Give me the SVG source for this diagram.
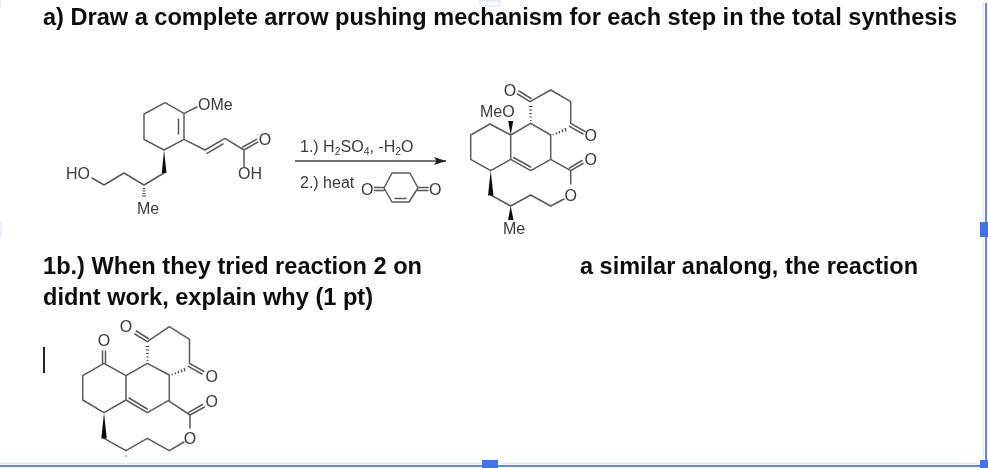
<svg xmlns="http://www.w3.org/2000/svg" width="988" height="468" viewBox="0 0 988 468">
<defs>
<style>
.h{font:bold 23px "Liberation Sans",Arial,sans-serif;fill:#111}
.l{font:16px "Liberation Sans",Arial,sans-serif;fill:#3a3a3a}
.s{font-size:10.500px}
.b{fill:none;stroke:#5a5a5a;stroke-width:1.5;stroke-linejoin:round;stroke-linecap:round}
.w{fill:#111;stroke:none}
.x{fill:none;stroke:#444;stroke-width:1.200}
.e{fill:#3f74e4}
.f{fill:none;stroke:#5b8bf0;stroke-width:2}
.g{fill:none;stroke:#dfe7fb;stroke-width:1.5}
</style>
<filter id="soft" filterUnits="userSpaceOnUse" x="0" y="0" width="988" height="468"><feGaussianBlur stdDeviation="0.45"/></filter>
<marker id="ah" markerWidth="13" markerHeight="8" refX="12" refY="4" orient="auto" markerUnits="userSpaceOnUse"><path d="M0 0L12 4L0 8L2.500 4Z" fill="#222"/></marker>
</defs>
<rect width="988" height="468" fill="#fff"/>

<g id="header" filter="url(#soft)"><text class="h" x="43" y="25" textLength="914" lengthAdjust="spacingAndGlyphs">a) Draw a complete arrow pushing mechanism for each step in the total synthesis</text></g>

<g id="starting-material" filter="url(#soft)">
<path class="b" d="M165 102.700L184 113.300L184 139.300L164 150L144 139.300L144 114ZM178.500 119V134M184 113.300L197 107M184 139.300L205 150L225 138.300L244 150L258 142M207 153.300L223 144M242.800 147L256.500 139.300M244 150V167M164 173L144 185L124 173L104 185L92 178"/>
<path class="w" d="M164 150L161.800 173H166.500Z"/>
<path class="x" d="M143 188.500h2M142.700 191h2.600M142.400 193.500h3.200M142 196h4"/>
<text class="l" x="198" y="109.500">OMe</text>
<text class="l" x="258.800" y="144.700">O</text>
<text class="l" x="238" y="179">OH</text>
<text class="l" x="66" y="179">HO</text>
<text class="l" x="137" y="214">Me</text>
</g>

<g id="connectors" filter="url(#soft)">
<line x1="295" y1="161" x2="446" y2="161" stroke="#444" stroke-width="1.300" marker-end="url(#ah)"/>
</g>

<g id="reagents" filter="url(#soft)">
<text class="l" x="300" y="152">1.) H<tspan class="s" dy="3">2</tspan><tspan dy="-3">SO</tspan><tspan class="s" dy="3">4</tspan><tspan dy="-3">, -H</tspan><tspan class="s" dy="3">2</tspan><tspan dy="-3">O</tspan></text>
<text class="l" x="300" y="188">2.) heat</text>
</g>

<g id="quinone" filter="url(#soft)">
<path class="b" d="M392 173H410L418 188L409 202H392L384 188ZM395 198.500H406M374.500 187.500H384M374.500 190.500H384M418 187.500H428M418 190.500H428"/>
<text class="l" x="361" y="194.700">O</text>
<text class="l" x="429" y="194.700">O</text>
</g>

<g id="product" filter="url(#soft)">
<path class="b" d="M517.500 94L530 101.700L550.700 90L570.700 101.700V123.300L585 131.500M531 98.500L519 91M569.500 126.300L583 134M550.700 135L530.700 123.300L510.700 135V159.300L530.700 170.700L550.700 159.300L570.700 170.700L583 163.500M569.500 168L582 160.500M550.700 135V159.300M513.500 157.500L530.700 167M570.700 170.700V184M564 199L550.700 206L530.700 195L510.700 206L490.700 195M490.700 170.700L510.700 159.300M490.700 170.700L470.700 159.300V135L490 124L510.700 135"/>
<path class="w" d="M510.700 135L508.200 121H513.200ZM490.700 170.700L488 195.500H493.500ZM510.700 206L508 220H513.500Z"/>
<path class="x" d="M530 120.500h1.500M529.700 117h2M529.400 113.500h2.500M529 110h3.200M528.700 106.500h3.700M553 134l.5 1.200M556 132.500l.7 1.800M559 131l.8 2.300M562 129.500l1 2.800M565 128l1.100 3.200"/>
<text class="l" x="480" y="116.700">MeO</text>
<text class="l" x="503.800" y="95.700">O</text>
<text class="l" x="584.500" y="140.700">O</text>
<text class="l" x="584.500" y="165">O</text>
<text class="l" x="564.500" y="200.700">O</text>
<text class="l" x="503" y="234">Me</text>
</g>

<g id="question-1b" filter="url(#soft)">
<text class="h" x="43" y="274" textLength="379" lengthAdjust="spacingAndGlyphs">1b.) When they tried reaction 2 on</text>
<text class="h" x="580" y="274" textLength="338" lengthAdjust="spacingAndGlyphs">a similar analong, the reaction</text>
<text class="h" x="43" y="305" textLength="330" lengthAdjust="spacingAndGlyphs">didnt work, explain why (1 pt)</text>
</g>

<g id="analog" filter="url(#soft)">
<path class="b" d="M134.800 334L147.300 341.700L169.300 326.700L189.500 339.300V363.300L204 371.500M148.300 338.500L136.300 331M188.300 366.300L202 374M169.300 375L147.300 363.300L126 375.700V400L147.300 412.700L168.300 400.700L190 415L204.500 407M188.800 412.300L202.500 404.500M169.300 375V400.700M129 398L147.300 409M190 415V428M184 442L169.300 450.700L147.300 438.300L126 450.700L104 438.300M104 412.700L126 400M104 412.700L82.700 400V375.700L104 363.300L126 375.700M102.500 363.300V351M105.500 363.300V351"/>
<path class="w" d="M104 412.700L101.300 438.500H106.800Z"/>
<path class="x" d="M146.700 360.500h1.500M146.400 357h2M146 353.500h2.700M145.800 350h3.200M145.500 346.500h3.700M172 374l.5 1.200M175 372.500l.7 1.800M178 371l.8 2.300M181 369.500l1 2.800M184 368l1.100 3.200"/>
<text class="l" x="119.800" y="332.400">O</text>
<text class="l" x="97.800" y="345.700">O</text>
<text class="l" x="205.500" y="381.700">O</text>
<text class="l" x="205.500" y="407.400">O</text>
<text class="l" x="183.800" y="444">O</text>
<circle cx="126" cy="456" r=".8" fill="#777"/>
</g>

<g id="text-cursor"><rect x="43" y="347" width="2" height="26" fill="#222"/></g>

<g id="selection-frame">
<path class="g" d="M0 463.500H480M500 463.500H978M983.500 2V220M983.500 240V458"/>
<path class="f" d="M0 466H988M986 3V222M986 237V460"/>
<path class="g" d="M480 .7H500V6H480ZM0 0V8M1 222V237"/>
<rect class="e" x="482" y="460" width="16" height="8"/>
<rect class="e" x="980" y="460" width="8" height="8"/>
<rect class="e" x="980" y="222" width="8" height="15"/>
</g>
</svg>
